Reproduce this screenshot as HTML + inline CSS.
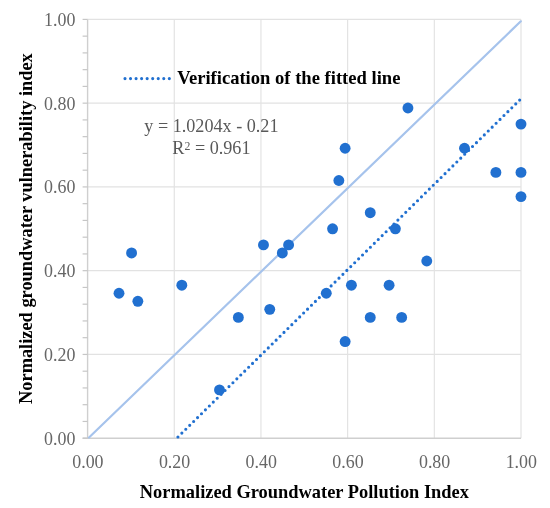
<!DOCTYPE html>
<html><head><meta charset="utf-8"><title>Chart</title>
<style>html,body{margin:0;padding:0;background:#fff}svg{display:block}text{font-family:"Liberation Serif","Times New Roman",serif}</style></head><body>
<svg width="550" height="508" viewBox="0 0 550 508">
<rect width="550" height="508" fill="#fff"/>
<line x1="87.60" y1="354.44" x2="521.00" y2="354.44" stroke="#e2e2e2" stroke-width="1.15"/>
<line x1="87.60" y1="270.68" x2="521.00" y2="270.68" stroke="#e2e2e2" stroke-width="1.15"/>
<line x1="87.60" y1="186.92" x2="521.00" y2="186.92" stroke="#e2e2e2" stroke-width="1.15"/>
<line x1="87.60" y1="103.16" x2="521.00" y2="103.16" stroke="#e2e2e2" stroke-width="1.15"/>
<line x1="87.60" y1="19.40" x2="521.00" y2="19.40" stroke="#e2e2e2" stroke-width="1.15"/>
<line x1="174.28" y1="19.40" x2="174.28" y2="438.20" stroke="#e2e2e2" stroke-width="1.15"/>
<line x1="260.96" y1="19.40" x2="260.96" y2="438.20" stroke="#e2e2e2" stroke-width="1.15"/>
<line x1="347.64" y1="19.40" x2="347.64" y2="438.20" stroke="#e2e2e2" stroke-width="1.15"/>
<line x1="434.32" y1="19.40" x2="434.32" y2="438.20" stroke="#e2e2e2" stroke-width="1.15"/>
<line x1="521.00" y1="19.40" x2="521.00" y2="438.20" stroke="#e2e2e2" stroke-width="1.15"/>
<line x1="87.60" y1="19.40" x2="87.60" y2="438.20" stroke="#cfcfcf" stroke-width="1.4"/>
<line x1="82.60" y1="438.20" x2="521.00" y2="438.20" stroke="#cfcfcf" stroke-width="1.4"/>
<line x1="82.60" y1="438.20" x2="87.60" y2="438.20" stroke="#c6c6c6" stroke-width="1.2"/>
<line x1="82.60" y1="421.45" x2="87.60" y2="421.45" stroke="#c6c6c6" stroke-width="1.2"/>
<line x1="82.60" y1="404.70" x2="87.60" y2="404.70" stroke="#c6c6c6" stroke-width="1.2"/>
<line x1="82.60" y1="387.94" x2="87.60" y2="387.94" stroke="#c6c6c6" stroke-width="1.2"/>
<line x1="82.60" y1="371.19" x2="87.60" y2="371.19" stroke="#c6c6c6" stroke-width="1.2"/>
<line x1="82.60" y1="354.44" x2="87.60" y2="354.44" stroke="#c6c6c6" stroke-width="1.2"/>
<line x1="82.60" y1="337.69" x2="87.60" y2="337.69" stroke="#c6c6c6" stroke-width="1.2"/>
<line x1="82.60" y1="320.94" x2="87.60" y2="320.94" stroke="#c6c6c6" stroke-width="1.2"/>
<line x1="82.60" y1="304.18" x2="87.60" y2="304.18" stroke="#c6c6c6" stroke-width="1.2"/>
<line x1="82.60" y1="287.43" x2="87.60" y2="287.43" stroke="#c6c6c6" stroke-width="1.2"/>
<line x1="82.60" y1="270.68" x2="87.60" y2="270.68" stroke="#c6c6c6" stroke-width="1.2"/>
<line x1="82.60" y1="253.93" x2="87.60" y2="253.93" stroke="#c6c6c6" stroke-width="1.2"/>
<line x1="82.60" y1="237.18" x2="87.60" y2="237.18" stroke="#c6c6c6" stroke-width="1.2"/>
<line x1="82.60" y1="220.42" x2="87.60" y2="220.42" stroke="#c6c6c6" stroke-width="1.2"/>
<line x1="82.60" y1="203.67" x2="87.60" y2="203.67" stroke="#c6c6c6" stroke-width="1.2"/>
<line x1="82.60" y1="186.92" x2="87.60" y2="186.92" stroke="#c6c6c6" stroke-width="1.2"/>
<line x1="82.60" y1="170.17" x2="87.60" y2="170.17" stroke="#c6c6c6" stroke-width="1.2"/>
<line x1="82.60" y1="153.42" x2="87.60" y2="153.42" stroke="#c6c6c6" stroke-width="1.2"/>
<line x1="82.60" y1="136.66" x2="87.60" y2="136.66" stroke="#c6c6c6" stroke-width="1.2"/>
<line x1="82.60" y1="119.91" x2="87.60" y2="119.91" stroke="#c6c6c6" stroke-width="1.2"/>
<line x1="82.60" y1="103.16" x2="87.60" y2="103.16" stroke="#c6c6c6" stroke-width="1.2"/>
<line x1="82.60" y1="86.41" x2="87.60" y2="86.41" stroke="#c6c6c6" stroke-width="1.2"/>
<line x1="82.60" y1="69.66" x2="87.60" y2="69.66" stroke="#c6c6c6" stroke-width="1.2"/>
<line x1="82.60" y1="52.90" x2="87.60" y2="52.90" stroke="#c6c6c6" stroke-width="1.2"/>
<line x1="82.60" y1="36.15" x2="87.60" y2="36.15" stroke="#c6c6c6" stroke-width="1.2"/>
<line x1="82.60" y1="19.40" x2="87.60" y2="19.40" stroke="#c6c6c6" stroke-width="1.2"/>
<line x1="89.0" y1="437.5" x2="520.8" y2="21.3" stroke="#a6c3ec" stroke-width="2.2" stroke-linecap="round"/>
<line x1="177.93" y1="436.96" x2="519.81" y2="99.92" stroke="#2170d0" stroke-width="3.15" stroke-linecap="round" stroke-dasharray="0 5.5159"/>
<circle cx="119.01" cy="293.23" r="5.45" fill="#2170d0"/>
<circle cx="131.57" cy="252.96" r="5.45" fill="#2170d0"/>
<circle cx="137.85" cy="301.28" r="5.45" fill="#2170d0"/>
<circle cx="181.82" cy="285.18" r="5.45" fill="#2170d0"/>
<circle cx="219.50" cy="389.88" r="5.45" fill="#2170d0"/>
<circle cx="238.35" cy="317.39" r="5.45" fill="#2170d0"/>
<circle cx="263.47" cy="244.91" r="5.45" fill="#2170d0"/>
<circle cx="269.75" cy="309.34" r="5.45" fill="#2170d0"/>
<circle cx="282.32" cy="252.96" r="5.45" fill="#2170d0"/>
<circle cx="288.60" cy="244.91" r="5.45" fill="#2170d0"/>
<circle cx="407.94" cy="107.99" r="5.45" fill="#2170d0"/>
<circle cx="345.13" cy="148.26" r="5.45" fill="#2170d0"/>
<circle cx="338.85" cy="180.48" r="5.45" fill="#2170d0"/>
<circle cx="370.25" cy="212.69" r="5.45" fill="#2170d0"/>
<circle cx="332.57" cy="228.80" r="5.45" fill="#2170d0"/>
<circle cx="395.38" cy="228.80" r="5.45" fill="#2170d0"/>
<circle cx="464.47" cy="148.26" r="5.45" fill="#2170d0"/>
<circle cx="521.00" cy="124.10" r="5.45" fill="#2170d0"/>
<circle cx="495.88" cy="172.42" r="5.45" fill="#2170d0"/>
<circle cx="521.00" cy="172.42" r="5.45" fill="#2170d0"/>
<circle cx="521.00" cy="196.58" r="5.45" fill="#2170d0"/>
<circle cx="426.78" cy="261.02" r="5.45" fill="#2170d0"/>
<circle cx="326.28" cy="293.23" r="5.45" fill="#2170d0"/>
<circle cx="351.41" cy="285.18" r="5.45" fill="#2170d0"/>
<circle cx="389.10" cy="285.18" r="5.45" fill="#2170d0"/>
<circle cx="370.25" cy="317.39" r="5.45" fill="#2170d0"/>
<circle cx="401.66" cy="317.39" r="5.45" fill="#2170d0"/>
<circle cx="345.13" cy="341.55" r="5.45" fill="#2170d0"/>
<text x="75.4" y="444.60" font-size="17.9" fill="#666666" text-anchor="end">0.00</text>
<text x="87.90" y="467.6" font-size="17.9" fill="#666666" text-anchor="middle">0.00</text>
<text x="75.4" y="360.84" font-size="17.9" fill="#666666" text-anchor="end">0.20</text>
<text x="174.58" y="467.6" font-size="17.9" fill="#666666" text-anchor="middle">0.20</text>
<text x="75.4" y="277.08" font-size="17.9" fill="#666666" text-anchor="end">0.40</text>
<text x="261.26" y="467.6" font-size="17.9" fill="#666666" text-anchor="middle">0.40</text>
<text x="75.4" y="193.32" font-size="17.9" fill="#666666" text-anchor="end">0.60</text>
<text x="347.94" y="467.6" font-size="17.9" fill="#666666" text-anchor="middle">0.60</text>
<text x="75.4" y="109.56" font-size="17.9" fill="#666666" text-anchor="end">0.80</text>
<text x="434.62" y="467.6" font-size="17.9" fill="#666666" text-anchor="middle">0.80</text>
<text x="75.4" y="25.80" font-size="17.9" fill="#666666" text-anchor="end">1.00</text>
<text x="521.30" y="467.6" font-size="17.9" fill="#666666" text-anchor="middle">1.00</text>
<line x1="125.0" y1="78.6" x2="169.5" y2="78.6" stroke="#2170d0" stroke-width="3.15" stroke-linecap="round" stroke-dasharray="0 5.54"/>
<text x="177.2" y="83.5" font-size="18.58" font-weight="bold" fill="#000">Verification of the fitted line</text>
<text x="211.4" y="131.8" font-size="18.15" fill="#595959" text-anchor="middle">y = 1.0204x - 0.21</text>
<text x="211.4" y="154" font-size="18.15" fill="#595959" text-anchor="middle">R<tspan font-size="11.8" dy="-4">2</tspan><tspan dy="4"> = 0.961</tspan></text>
<text x="304.4" y="497.5" font-size="18.42" font-weight="bold" fill="#000" text-anchor="middle">Normalized Groundwater Pollution Index</text>
<text transform="translate(31.8 228.6) rotate(-90)" font-size="18.37" font-weight="bold" fill="#000" text-anchor="middle">Normalized groundwater vulnerability index</text>
</svg></body></html>
